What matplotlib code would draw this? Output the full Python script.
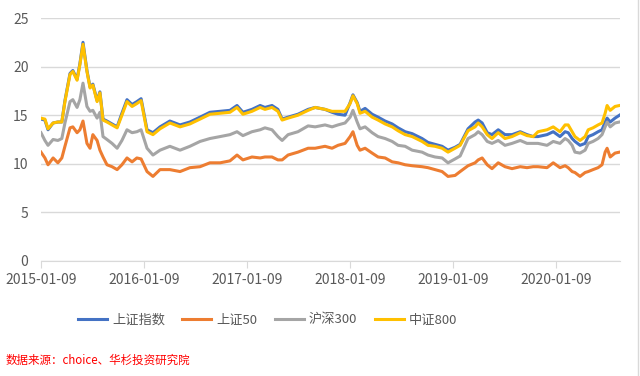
import pandas as pd
import matplotlib
matplotlib.use("Agg")
import matplotlib.pyplot as plt
from matplotlib.lines import Line2D

plt.rcParams['font.family'] = ['Noto Sans CJK SC', 'DejaVu Sans']

# dates
dates = [
    "2015-01-09", "2015-01-23", "2015-02-03", "2015-02-21", "2015-03-10", "2015-03-24",
    "2015-04-04", "2015-04-22", "2015-05-02", "2015-05-17", "2015-05-27", "2015-06-07",
    "2015-06-21", "2015-07-02", "2015-07-12", "2015-07-27", "2015-08-06", "2015-08-17",
    "2015-08-31", "2015-09-18", "2015-10-06", "2015-10-23", "2015-11-10", "2015-11-28",
    "2015-12-15", "2015-12-30", "2016-01-20", "2016-02-10", "2016-03-06", "2016-04-10",
    "2016-05-16", "2016-06-20", "2016-07-26", "2016-08-30", "2016-10-05", "2016-11-09",
    "2016-12-04", "2016-12-25", "2017-01-26", "2017-02-24", "2017-03-13", "2017-04-07",
    "2017-04-28", "2017-05-13", "2017-06-03", "2017-07-08", "2017-08-13", "2017-09-07",
    "2017-10-12", "2017-11-06", "2017-11-27", "2017-12-22", "2018-01-09", "2018-01-19",
    "2018-02-03", "2018-02-13", "2018-03-03", "2018-03-28", "2018-04-18", "2018-05-13",
    "2018-06-07", "2018-06-28", "2018-07-23", "2018-08-17", "2018-09-21", "2018-10-12",
    "2018-11-06", "2018-12-01", "2018-12-22", "2019-01-16", "2019-02-03", "2019-03-03",
    "2019-03-28", "2019-04-08", "2019-04-22", "2019-05-10", "2019-05-27", "2019-06-18",
    "2019-07-12", "2019-08-06", "2019-09-04", "2019-09-28", "2019-10-20", "2019-11-06",
    "2019-12-08", "2019-12-30", "2020-01-23", "2020-02-10", "2020-02-21", "2020-03-06",
    "2020-03-16", "2020-04-03", "2020-04-21", "2020-05-02", "2020-05-19", "2020-06-06",
    "2020-06-20", "2020-07-01", "2020-07-08", "2020-07-19", "2020-08-05", "2020-08-21",
]

sh_index = [
    14.6, 14.5, 13.5, 14.2, 14.3, 14.3, 16.5, 19.3, 19.6, 18.7, 20.3, 22.5,
    19.6, 17.9, 18.2, 16.5, 17.4, 14.6, 14.4, 14.1, 13.8, 15.2, 16.6, 16.1,
    16.4, 16.7, 13.5, 13.2, 13.8, 14.4, 14.0, 14.3, 14.8, 15.3, 15.4, 15.5,
    16.0, 15.3, 15.6, 16.0, 15.8, 16.0, 15.6, 14.6, 14.8, 15.1, 15.6, 15.8,
    15.6, 15.3, 15.1, 15.0, 16.3, 17.1, 16.3, 15.4, 15.7, 15.1, 14.8, 14.4,
    14.1, 13.7, 13.3, 13.1, 12.6, 12.2, 12.0, 11.8, 11.4, 11.7, 12.0, 13.6,
    14.3, 14.5, 14.2, 13.2, 13.0, 13.5, 13.0, 13.0, 13.3, 13.0, 12.8, 12.8,
    13.0, 13.3, 12.8, 13.3, 13.2, 12.6, 12.3, 11.9, 12.1, 12.8, 13.0, 13.3,
    13.5, 14.3, 14.7, 14.3, 14.7, 15.0,
]

sz50 = [
    11.2, 10.6, 9.9, 10.6, 10.1, 10.6, 11.8, 13.7, 13.8, 13.2, 13.5, 14.4,
    12.1, 11.6, 13.0, 12.4, 11.4, 10.7, 9.9, 9.7, 9.4, 9.9, 10.6, 10.2,
    10.6, 10.5, 9.2, 8.7, 9.4, 9.4, 9.2, 9.6, 9.7, 10.1, 10.1, 10.3,
    10.9, 10.4, 10.7, 10.6, 10.7, 10.7, 10.4, 10.4, 10.9, 11.2, 11.6, 11.6,
    11.8, 11.6, 11.9, 12.1, 12.8, 13.3, 11.9, 11.4, 11.6, 11.1, 10.7, 10.6,
    10.2, 10.1, 9.9, 9.8, 9.7, 9.6, 9.4, 9.2, 8.7, 8.8, 9.2, 9.8,
    10.1, 10.4, 10.6, 9.9, 9.5, 10.1, 9.7, 9.5, 9.7, 9.6, 9.7, 9.7,
    9.6, 10.1, 9.6, 9.8, 9.6, 9.2, 9.1, 8.7, 9.1, 9.2, 9.4, 9.6,
    9.9, 11.2, 11.6, 10.7, 11.1, 11.2,
]

hs300 = [
    13.2, 12.4, 11.9, 12.5, 12.4, 12.6, 14.2, 16.4, 16.6, 15.8, 16.6, 18.3,
    15.9, 15.4, 15.5, 14.7, 15.3, 12.8, 12.5, 12.1, 11.6, 12.4, 13.5, 13.2,
    13.3, 13.5, 11.6, 10.9, 11.4, 11.8, 11.4, 11.8, 12.3, 12.6, 12.8, 13.0,
    13.3, 12.9, 13.3, 13.5, 13.7, 13.5, 12.8, 12.4, 13.0, 13.3, 13.9, 13.8,
    14.0, 13.8, 14.0, 14.2, 14.8, 15.5, 14.3, 13.6, 13.8, 13.2, 12.8, 12.6,
    12.3, 11.9, 11.8, 11.4, 11.2, 10.9, 10.7, 10.6, 10.1, 10.5, 10.8, 12.6,
    13.0, 13.3, 13.0, 12.3, 12.1, 12.4, 11.9, 12.1, 12.4, 12.1, 12.1, 12.1,
    11.9, 12.3, 12.1, 12.6, 12.4, 11.9, 11.2, 11.1, 11.4, 12.1, 12.3, 12.6,
    13.0, 13.8, 14.3, 13.8, 14.2, 14.3,
]

zz800 = [
    14.7, 14.6, 13.6, 14.2, 14.3, 14.3, 16.4, 19.2, 19.5, 18.6, 20.2, 22.3,
    19.5, 17.8, 18.1, 16.4, 17.3, 14.5, 14.3, 14.0, 13.7, 15.0, 16.4, 15.9,
    16.2, 16.5, 13.3, 13.0, 13.6, 14.2, 13.8, 14.1, 14.6, 15.1, 15.2, 15.3,
    15.8, 15.1, 15.4, 15.8, 15.6, 15.8, 15.4, 14.5, 14.7, 15.0, 15.5, 15.8,
    15.6, 15.4, 15.4, 15.4, 16.2, 17.0, 16.2, 15.2, 15.4, 14.8, 14.5, 14.1,
    13.8, 13.4, 13.0, 12.8, 12.3, 11.9, 11.8, 11.6, 11.2, 11.6, 11.9, 13.4,
    13.8, 14.2, 13.8, 13.0, 12.6, 13.2, 12.6, 12.8, 13.2, 12.9, 12.8, 13.3,
    13.5, 13.8, 13.3, 14.0, 14.0, 13.3, 12.8, 12.4, 12.8, 13.5, 13.7, 14.0,
    14.2, 15.2, 16.0, 15.5, 15.9, 16.0,
]

series_names = ["上证指数", "上证50", "沪深300", "中证800"]
colors = ["#4472C4", "#ED7D31", "#A5A5A5", "#FFC000"]
tick_labels = ["2015-01-09", "2016-01-09", "2017-01-09", "2018-01-09", "2019-01-09", "2020-01-09"]

x = pd.to_datetime(dates)
fig = plt.figure(figsize=(6.4, 3.76), dpi=100)
ax = fig.add_axes([0.064, 0.306, 0.904, 0.646])

for vals, name, c in zip([sh_index, sz50, hs300, zz800], series_names, colors):
    ax.plot(x, vals, color=c, lw=2.2, label=name, solid_joinstyle="round")

ax.set_ylim(0, 25)
ax.set_yticks([0, 5, 10, 15, 20, 25])
ax.set_xlim(x[0], x[-1])
ax.set_xticks(pd.to_datetime(tick_labels))
ax.set_xticklabels(tick_labels)
ax.grid(axis="y", color="#D9D9D9", lw=1)
ax.set_axisbelow(True)
for s in ["top", "right", "left"]:
    ax.spines[s].set_visible(False)
ax.spines["bottom"].set_color("#D9D9D9")
ax.tick_params(axis="y", length=0, labelsize=10, labelcolor="#595959", pad=9)
ax.tick_params(axis="x", length=5, color="#D9D9D9", labelsize=10, labelcolor="#595959", pad=4)

fig.legend(loc="center", bbox_to_anchor=(0.418, 0.149), ncol=4, frameon=False,
           fontsize=9.5, handlelength=2.2, handletextpad=0.4, columnspacing=1.3,
           labelcolor="#595959")

fig.text(0.008, 0.043, "数据来源：choice、华杉投资研究院", color="#FF0000", fontsize=8.3,
         va="center", ha="left")
fig.add_artist(Line2D([0.997, 0.997], [0, 1], transform=fig.transFigure, color="#D9D9D9", lw=1))

fig.savefig("out.png", dpi=100)
